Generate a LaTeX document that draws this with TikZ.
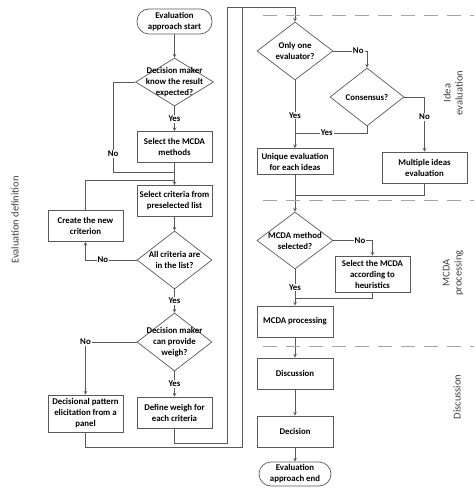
\documentclass[tikz,border=0pt]{standalone}
\usepackage{fontspec}
\setmainfont{Carlito}
\usetikzlibrary{shapes.geometric}
\begin{document}
\begin{tikzpicture}[>=stealth,x=1pt,y=-1pt,
  line/.style={draw=black!65,line width=.7pt},
  box/.style={draw=black!65,line width=.7pt,rectangle,minimum width=75pt,minimum height=31pt,
    align=center,inner sep=1pt,font=\fontsize{8.8}{11}\selectfont\bfseries},
  term/.style={box,rounded corners=12pt,minimum height=25pt},
  ask/.style={draw=black!65,line width=.7pt,diamond,inner sep=0pt,minimum width=76pt,minimum height=58pt},
  asktext/.style={align=center,inner sep=0pt,font=\fontsize{8.8}{11}\selectfont\bfseries},
  lab/.style={fill=white,inner sep=1pt,font=\fontsize{8.8}{11}\selectfont\bfseries},
  side/.style={rotate=90,align=center,text=black!75,font=\fontsize{10.5}{12}\selectfont},
  sep/.style={draw=black!35,line width=.8pt,dash pattern=on 14pt off 9pt}]
\useasboundingbox (0,0) rectangle (474,489);
% evaluation definition
\node[term] (start) at (174.5,21.5) {Evaluation\\approach start};
\node[ask,minimum width=78pt,minimum height=48pt,label={[asktext]center:Decision maker\\know the result\\expected?}] (know) at (174.5,82) {};
\node[box] (methods) at (174.5,147) {Select the MCDA\\methods};
\node[box] (criteria) at (174.5,201) {Select criteria from\\preselected list};
\node[box] (newcrit) at (85.5,226) {Create the new\\criterion};
\node[ask,minimum width=75pt,label={[asktext]center:All criteria are\\in the list?}] (inlist) at (174.5,260) {};
\node[ask,minimum width=75pt,label={[asktext]center:Decision maker\\can provide\\weigh?}] (weigh) at (174.5,342) {};
\node[box,minimum height=37pt] (panel) at (85.5,413.5) {Decisional pattern\\elicitation from a\\panel};
\node[box] (define) at (174.5,412.5) {Define weigh for\\each criteria};
% idea evaluation, mcda, discussion
\node[ask,label={[asktext]center:Only one\\evaluator?}] (one) at (295,51) {};
\node[ask,minimum width=74pt,label={[asktext]center:Consensus?}] (cons) at (367,97) {};
\node[box,minimum width=76pt,minimum height=26pt] (unique) at (295,161.5) {Unique evaluation\\for each ideas};
\node[box,minimum width=85pt] (multi) at (424.5,167.5) {Multiple ideas\\evaluation};
\node[ask,minimum height=57pt,label={[asktext]center:MCDA method\\selected?}] (chosen) at (295,240.5) {};
\node[box,minimum height=36pt] (heur) at (372.5,274) {Select the MCDA\\according to\\heuristics};
\node[box,minimum width=76pt] (proc) at (295,321.5) {MCDA processing};
\node[box,minimum width=76pt] (disc) at (295,373.5) {Discussion};
\node[box,minimum width=76pt] (dec) at (295,431.5) {Decision};
\node[term,minimum width=72pt,minimum height=24pt] (end) at (295,474) {Evaluation\\approach end};
% joints
\coordinate (j1) at (174.5,172);
\coordinate (j2) at (174.5,180);
\coordinate (top) at (227,7);
\coordinate (j3) at (295,133);
\coordinate (j4) at (295,195);
\coordinate (j5) at (295,298);
% left flow
\draw[line,->] (start) -- (know);
\draw[line,->] (know) -- node[lab]{Yes} (methods);
\draw[line] (know.west) -- ++(-22,0) |- node[lab,pos=.4]{No} (j1);
\draw[line,->] (methods) -- (criteria);
\draw[line] (newcrit) |- (j2);
\draw[line,->] (criteria) -- (inlist);
\draw[line,->] (inlist) -| node[lab,pos=.33]{No} (newcrit);
\draw[line,->] (inlist) -- node[lab]{Yes} (weigh);
\draw[line,->] (weigh) -| node[lab]{No} (panel);
\draw[line,->] (weigh) -- node[lab]{Yes} (define);
\draw[line,->] (define.south) -- ++(0,15) -| (top) -| (one);
\draw[line] (panel.south) -- ++(0,15) -| ([xshift=15pt]top);
% right flow
\draw[line,->] (one) -| node[lab,pos=.37]{No} (cons);
\draw[line,->] (cons) -| node[lab,pos=.68]{No} (multi);
\draw[line,->] (one) -- node[lab,pos=.52]{Yes} (unique);
\draw[line] (cons) |- node[lab,pos=.78]{Yes} (j3);
\draw[line,->] (unique) -- (chosen);
\draw[line] (multi) |- (j4);
\draw[line,->] (chosen) -| node[lab,pos=.34]{No} (heur);
\draw[line] (heur) |- (j5);
\draw[line,->] (chosen) -- node[lab]{Yes} (proc);
\draw[line,->] (proc) -- (disc);
\draw[line,->] (disc) -- (dec);
\draw[line,->] (dec) -- (end);
% phases
\foreach \y in {15,200,346}
{
    \draw[sep] (263,\y) -- (474,\y);
}
\node[side] (defn) at (15,220) {Evaluation definition};
\node[side] (idea) at (453,93) {Idea\\evaluation};
\node[side] (mcda) at (453,273) {MCDA\\processing};
\node[side] (talk) at (457,397) {Discussion};
\end{tikzpicture}
\end{document}
